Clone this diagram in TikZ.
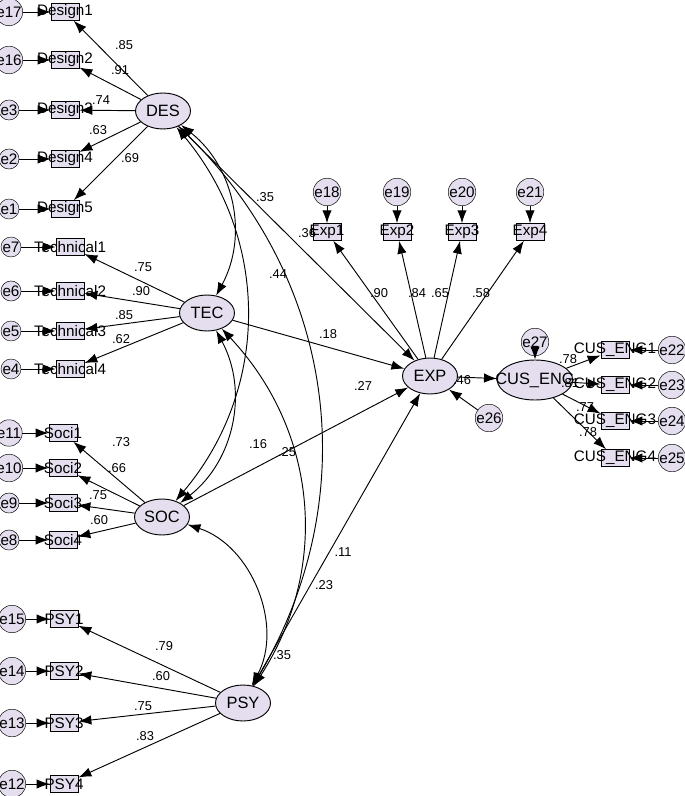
\documentclass[tikz,border=0pt]{standalone}
\usepackage{fontspec}
\setmainfont{Liberation Sans}
\usetikzlibrary{arrows.meta,shapes.geometric}
\definecolor{lav}{RGB}{228,222,238}
\tikzset{
  lat/.style={ellipse,draw,thick,fill=lav,minimum width=1.65cm,minimum height=1.08cm,inner sep=0pt,font=\fontsize{14}{14}\selectfont},
  obs/.style={rectangle,draw,thick,fill=lav,minimum width=0.84cm,minimum height=0.5cm,inner sep=0pt},
  err/.style={circle,draw,fill=lav,minimum size=0.6cm,inner sep=0pt,font=\fontsize{13}{13}\selectfont},
  lbl/.style={font=\fontsize{11}{11}\selectfont},
  path/.style={draw,thick,-{Latex[length=11pt,width=8pt]}},
  cov/.style={draw,thick,{Latex[length=11pt,width=8pt]}-{Latex[length=11pt,width=8pt]}}
}
\begin{document}
\begin{tikzpicture}[x=0.03cm,y=-0.03cm,font=\fontsize{13}{13}\selectfont]
  \useasboundingbox (0,0) rectangle (685,796);
  % latent factors
  \node[lat] (DES) at (163,111) {DES};
  \node[lat] (TEC) at (207,313) {TEC};
  \node[lat] (SOC) at (162,517) {SOC};
  \node[lat] (PSY) at (243,703) {PSY};
  \node[lat] (EXP) at (430,376) {EXP};
  \node[lat,minimum width=2.1cm,minimum height=1.2cm] (CUS) at (535,380) {\makebox[1.6cm]{CUS\_ENG}};
  \node[err] (e27) at (535,342) {e27};
  \node[err] (e26) at (489,418) {e26};
  % design items
  \foreach \i/\y/\e/\v/\lx/\ly in {1/12/e17/.85/124/45,2/60/e16/.91/120/70,3/110/e3/.74/101/100,4/159/e2/.63/98/130,5/209/e1/.69/130/158}{
    \node[obs,label=center:Design\i] (D\i) at (65,\y) {};
    \node[err] (\e) at (9,\y) {\e};
    \draw[path] (\e) -- (D\i);
    \draw[path] (DES) -- (D\i);
    \node[lbl] at (\lx,\ly) {\v};
  }
  % technical items
  \foreach \i/\y/\e/\v/\lx/\ly in {1/247/e7/.75/143/267,2/291/e6/.90/141/291,3/331/e5/.85/124/315,4/369/e4/.62/121/339}{
    \node[obs,label=center:Technical\i] (T\i) at (70,\y) {};
    \node[err] (\e) at (11,\y) {\e};
    \draw[path] (\e) -- (T\i);
    \draw[path] (TEC) -- (T\i);
    \node[lbl] at (\lx,\ly) {\v};
  }
  % social items
  \foreach \i/\y/\e/\v/\lx/\ly in {1/433/e11/.73/121/442,2/468/e10/.66/117/468,3/503/e9/.75/98/495,4/540/e8/.60/99/520}{
    \node[obs,label=center:Soci\i] (S\i) at (63,\y) {};
    \node[err] (\e) at (9,\y) {\e};
    \draw[path] (\e) -- (S\i);
    \draw[path] (SOC) -- (S\i);
    \node[lbl] at (\lx,\ly) {\v};
  }
  % psy items
  \foreach \i/\y/\e/\v/\lx/\ly in {1/619/e15/.79/164/646,2/671/e14/.60/161/676,3/723/e13/.75/143/706,4/784/e12/.83/145/736}{
    \node[obs,label=center:PSY\i] (P\i) at (64,\y) {};
    \node[err] (\e) at (12,\y) {\e};
    \draw[path] (\e) -- (P\i);
    \draw[path] (PSY) -- (P\i);
    \node[lbl] at (\lx,\ly) {\v};
  }
  % experience items
  \foreach \i/\x/\e/\v/\lx/\ly in {1/327/e18/.90/379/293,2/397/e19/.84/417/293,3/462/e20/.65/440/293,4/530/e21/.58/481/293}{
    \node[obs,label=center:Exp\i] (X\i) at (\x,232) {};
    \node[err] (\e) at (\x,192) {\e};
    \draw[path] (\e) -- (X\i);
    \draw[path] (EXP) -- (X\i);
    \node[lbl] at (\lx,\ly) {\v};
  }
  % engagement items
  \foreach \i/\y/\e/\v/\lx/\ly in {1/350/e22/.78/568/359,2/385/e23/.81/570/383,3/421/e24/.77/585/407,4/458/e25/.78/588/432}{
    \node[obs,label=center:CUS\_ENG\i] (C\i) at (615,\y) {};
    \node[err] (\e) at (672,\y) {\e};
    \draw[path] (\e) -- (C\i);
    \draw[path] (CUS) -- (C\i);
    \node[lbl] at (\lx,\ly) {\v};
  }
  % structural paths
  \draw[path] (DES) -- (EXP);
  \draw[path] (TEC) -- (EXP);
  \draw[path] (SOC) -- (EXP);
  \draw[path] (PSY) -- (EXP);
  \draw[path] (EXP) -- (CUS);
  \draw[path] (e26) -- (EXP);
  \draw[path] (e27) -- (CUS);
  % covariances
  \draw[cov] (DES) to[bend left=40] (TEC);
  \draw[cov] (DES) to[bend left=40] (SOC);
  \draw[cov] (DES) to[bend left=38] (PSY);
  \draw[cov] (TEC) to[bend left=40] (SOC);
  \draw[cov] (TEC) to[bend left=38] (PSY);
  \draw[cov] (SOC) to[bend left=50] (PSY);
  \node[lbl] at (265,197) {.35};
  \node[lbl] at (307,233) {.36};
  \node[lbl] at (278,274) {.44};
  \node[lbl] at (328,334) {.18};
  \node[lbl] at (363,386) {.27};
  \node[lbl] at (258,444) {.16};
  \node[lbl] at (287,452) {.25};
  \node[lbl] at (343,552) {.11};
  \node[lbl] at (324,585) {.23};
  \node[lbl] at (282,655) {.35};
  \node[lbl] at (462,380) {.46};
\end{tikzpicture}
\end{document}
